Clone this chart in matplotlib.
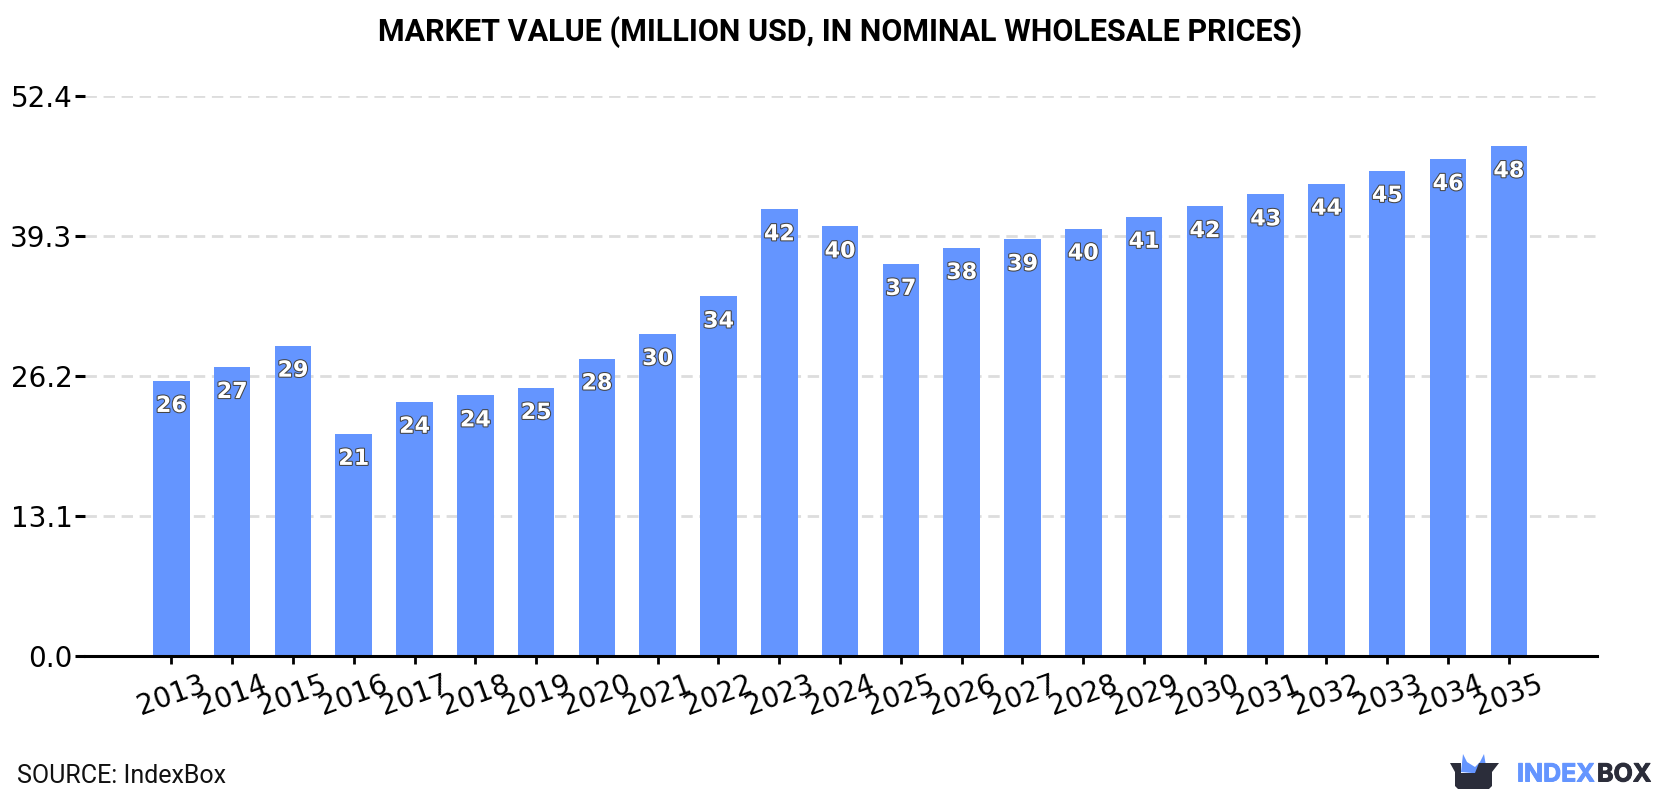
import matplotlib
matplotlib.use("Agg")
import matplotlib.pyplot as plt
import matplotlib.patheffects as pe
from matplotlib.patches import Polygon

years = list(range(2013, 2036))
market_value = [25.75, 27.05, 29.05, 20.8, 23.8, 24.4, 25.1, 27.85, 30.15, 33.65, 41.8,
                40.2, 36.7, 38.2, 39.0, 40.0, 41.1, 42.1, 43.2, 44.2, 45.4, 46.5, 47.7]
y_ticks = [0.0, 13.1, 26.2, 39.3, 52.4]

BLUE = "#6495ff"
DARK = "#2b2d3a"

W, H = 1680, 800
fig = plt.figure(figsize=(W / 100, H / 100), dpi=100)
ax = fig.add_axes([85 / W, 1 - 656.3 / H, (1597 - 85) / W, (656.3 - 96) / H])

ax.bar(years, market_value, width=0.6, color=BLUE, zorder=2)
ax.set_xlim(2011.58, 2036.45)
ax.set_ylim(0, 52.4)

ax.set_yticks(y_ticks)
ax.set_yticklabels([f"{t:.1f}" for t in y_ticks])
ax.set_xticks(years)
ax.set_xticklabels(years, rotation=20)
ax.tick_params(axis="y", labelsize=20, length=7, width=2.2, pad=2, color="black")
ax.tick_params(axis="x", labelsize=20, length=6, width=2, pad=4, color="black")
ax.grid(axis="y", color="#dddddd", linestyle=(0, (4.1, 2.4)), linewidth=2, zorder=1)
ax.set_axisbelow(True)

for side in ["top", "right", "left"]:
    ax.spines[side].set_visible(False)
ax.spines["bottom"].set_linewidth(2.2)

# value labels sit just under the top of each bar
for year, value in zip(years, market_value):
    ax.annotate(f"{value:.0f}", (year, value), xytext=(0, -15), textcoords="offset pixels",
                ha="center", va="top", fontsize=16, fontweight="bold", color="white", zorder=3,
                path_effects=[pe.withStroke(linewidth=1.5, foreground="#444444")])

fig.text(0.5, 1 - 32 / H, "MARKET VALUE (MILLION USD, IN NOMINAL WHOLESALE PRICES)",
         ha="center", va="center", family="Roboto", fontweight="bold", fontsize=22, color="black")
fig.text(17 / W, 1 - 776 / H, "SOURCE: IndexBox", ha="left", va="center",
         family="Roboto", fontsize=18, color="#111111")

# logo, in pixel coordinates of the figure
overlay = fig.add_axes([0, 0, 1, 1], facecolor="none")
overlay.set_xlim(0, W)
overlay.set_ylim(H, 0)
overlay.axis("off")
overlay.add_patch(Polygon([(1461, 772), (1463, 754), (1467, 762), (1475, 767), (1480, 762),
                           (1484, 754), (1487, 772), (1478, 773), (1472, 773)],
                          closed=True, color=BLUE, lw=0))
overlay.add_patch(Polygon([(1450, 763), (1461, 763), (1461, 773), (1475, 773), (1479, 763),
                           (1499, 763), (1492, 772), (1492, 786), (1489, 789), (1458, 789),
                           (1455, 786), (1455, 772)],
                          closed=True, color=DARK, lw=0))
for word, x, colour in [("INDEX", 1517, BLUE), ("BOX", 1597, DARK)]:
    overlay.text(x, 775, word, ha="left", va="center", family="Inter", fontweight="bold",
                 fontsize=18, color=colour,
                 path_effects=[pe.withStroke(linewidth=0.7, foreground=colour)])

fig.savefig("out.png", dpi=100)
